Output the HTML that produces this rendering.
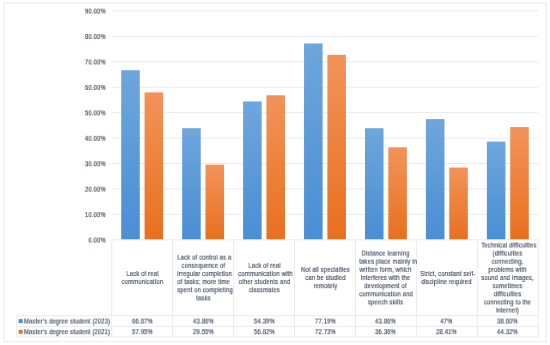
<!DOCTYPE html>
<html><head><meta charset="utf-8"><style>
html,body{margin:0;padding:0;background:#fff;}
body{width:550px;height:345px;position:relative;overflow:hidden;font-family:"Liberation Sans",sans-serif;font-size:6.8px;line-height:8.1px;color:#404A5E;-webkit-text-stroke:0.16px #404A5E;letter-spacing:0.2px;}
svg{position:absolute;left:0;top:0;}
div{position:absolute;white-space:nowrap;will-change:transform;transform:scaleX(0.86);}
.yl{width:65.8px;text-align:right;transform-origin:100% 50%;}
.cl{text-align:center;transform-origin:50% 50%;}
.lg{transform-origin:0 50%;}
</style></head><body>
<svg width="550" height="345" viewBox="0 0 550 345">
<defs><linearGradient id="gb" x1="0" y1="0" x2="0" y2="1"><stop offset="0" stop-color="#6EA6DC"/><stop offset="1" stop-color="#4A8ED4"/></linearGradient><linearGradient id="go" x1="0" y1="0" x2="0" y2="1"><stop offset="0" stop-color="#F2935A"/><stop offset="1" stop-color="#E8701E"/></linearGradient></defs>
<line x1="111.7" y1="214.36" x2="538.28" y2="214.36" stroke="#EAEBEF" stroke-width="1"/>
<line x1="111.7" y1="188.93" x2="538.28" y2="188.93" stroke="#EAEBEF" stroke-width="1"/>
<line x1="111.7" y1="163.49" x2="538.28" y2="163.49" stroke="#EAEBEF" stroke-width="1"/>
<line x1="111.7" y1="138.05" x2="538.28" y2="138.05" stroke="#EAEBEF" stroke-width="1"/>
<line x1="111.7" y1="112.62" x2="538.28" y2="112.62" stroke="#EAEBEF" stroke-width="1"/>
<line x1="111.7" y1="87.18" x2="538.28" y2="87.18" stroke="#EAEBEF" stroke-width="1"/>
<line x1="111.7" y1="61.74" x2="538.28" y2="61.74" stroke="#EAEBEF" stroke-width="1"/>
<line x1="111.7" y1="36.31" x2="538.28" y2="36.31" stroke="#EAEBEF" stroke-width="1"/>
<line x1="111.7" y1="10.87" x2="538.28" y2="10.87" stroke="#EAEBEF" stroke-width="1"/>
<rect x="121.22" y="70.21" width="18.55" height="169.59" fill="url(#gb)"/>
<rect x="144.57" y="92.39" width="18.55" height="147.41" fill="url(#go)"/>
<rect x="182.16" y="128.23" width="18.55" height="111.57" fill="url(#gb)"/>
<rect x="205.51" y="164.63" width="18.55" height="75.17" fill="url(#go)"/>
<rect x="243.10" y="101.45" width="18.55" height="138.35" fill="url(#gb)"/>
<rect x="266.45" y="95.27" width="18.55" height="144.53" fill="url(#go)"/>
<rect x="304.04" y="43.45" width="18.55" height="196.35" fill="url(#gb)"/>
<rect x="327.39" y="54.80" width="18.55" height="185.00" fill="url(#go)"/>
<rect x="364.98" y="128.23" width="18.55" height="111.57" fill="url(#gb)"/>
<rect x="388.33" y="147.31" width="18.55" height="92.49" fill="url(#go)"/>
<rect x="425.92" y="119.10" width="18.55" height="120.70" fill="url(#gb)"/>
<rect x="449.27" y="167.53" width="18.55" height="72.27" fill="url(#go)"/>
<rect x="486.86" y="141.61" width="18.55" height="98.19" fill="url(#gb)"/>
<rect x="510.21" y="127.06" width="18.55" height="112.74" fill="url(#go)"/>
<line x1="111.7" y1="239.8" x2="538.28" y2="239.8" stroke="#E9EBEF" stroke-width="1"/>
<line x1="111.70" y1="239.8" x2="111.70" y2="336.9" stroke="#E9EBEF" stroke-width="1"/>
<line x1="172.64" y1="239.8" x2="172.64" y2="336.9" stroke="#E9EBEF" stroke-width="1"/>
<line x1="233.58" y1="239.8" x2="233.58" y2="336.9" stroke="#E9EBEF" stroke-width="1"/>
<line x1="294.52" y1="239.8" x2="294.52" y2="336.9" stroke="#E9EBEF" stroke-width="1"/>
<line x1="355.46" y1="239.8" x2="355.46" y2="336.9" stroke="#E9EBEF" stroke-width="1"/>
<line x1="416.40" y1="239.8" x2="416.40" y2="336.9" stroke="#E9EBEF" stroke-width="1"/>
<line x1="477.34" y1="239.8" x2="477.34" y2="336.9" stroke="#E9EBEF" stroke-width="1"/>
<line x1="538.28" y1="239.8" x2="538.28" y2="336.9" stroke="#E9EBEF" stroke-width="1"/>
<line x1="16.4" y1="315.7" x2="538.28" y2="315.7" stroke="#E9EBEF" stroke-width="1"/>
<line x1="16.4" y1="326.4" x2="538.28" y2="326.4" stroke="#E9EBEF" stroke-width="1"/>
<line x1="16.4" y1="336.9" x2="538.28" y2="336.9" stroke="#E9EBEF" stroke-width="1"/>
<line x1="16.4" y1="315.7" x2="16.4" y2="336.9" stroke="#E9EBEF" stroke-width="1"/>
<rect x="18.6" y="319.1" width="4.1" height="4.0" fill="#4A8FD6"/>
<rect x="18.6" y="329.8" width="4.1" height="4.0" fill="#EE7224"/>
<rect x="4" y="3" width="542.4" height="338.5" fill="none" stroke="#EEEFF2" stroke-width="1.2"/>
</svg>
<div class="yl" style="left:40.00px;top:236px;transform:translateY(0.55px) scaleX(0.86);">0.00%</div>
<div class="yl" style="left:40.00px;top:211px;transform:translateY(0.11px) scaleX(0.86);">10.00%</div>
<div class="yl" style="left:40.00px;top:185px;transform:translateY(0.68px) scaleX(0.86);">20.00%</div>
<div class="yl" style="left:40.00px;top:160px;transform:translateY(0.24px) scaleX(0.86);">30.00%</div>
<div class="yl" style="left:40.00px;top:134px;transform:translateY(0.80px) scaleX(0.86);">40.00%</div>
<div class="yl" style="left:40.00px;top:109px;transform:translateY(0.37px) scaleX(0.86);">50.00%</div>
<div class="yl" style="left:40.00px;top:83px;transform:translateY(0.93px) scaleX(0.86);">60.00%</div>
<div class="yl" style="left:40.00px;top:58px;transform:translateY(0.49px) scaleX(0.86);">70.00%</div>
<div class="yl" style="left:40.00px;top:33px;transform:translateY(0.06px) scaleX(0.86);">80.00%</div>
<div class="yl" style="left:40.00px;top:7px;transform:translateY(0.62px) scaleX(0.86);">90.00%</div>
<div class="cl" style="left:111.70px;top:269px;width:60.94px;transform:translateY(0.94px) scaleX(0.86);">Lack of real</div>
<div class="cl" style="left:111.70px;top:278px;width:60.94px;transform:translateY(0.06px) scaleX(0.86);">communication</div>
<div class="cl" style="left:111.70px;top:317px;width:60.94px;transform:translateY(0.55px) scaleX(0.86);">66.67%</div>
<div class="cl" style="left:111.70px;top:328px;width:60.94px;transform:translateY(0.15px) scaleX(0.86);">57.95%</div>
<div class="cl" style="left:172.64px;top:253px;width:60.94px;transform:translateY(0.68px) scaleX(0.86);">Lack of control as a</div>
<div class="cl" style="left:172.64px;top:261px;width:60.94px;transform:translateY(0.81px) scaleX(0.86);">consequence of</div>
<div class="cl" style="left:172.64px;top:269px;width:60.94px;transform:translateY(0.94px) scaleX(0.86);">irregular completion</div>
<div class="cl" style="left:172.64px;top:278px;width:60.94px;transform:translateY(0.06px) scaleX(0.86);">of tasks; more time</div>
<div class="cl" style="left:172.64px;top:286px;width:60.94px;transform:translateY(0.19px) scaleX(0.86);">spent on completing</div>
<div class="cl" style="left:172.64px;top:294px;width:60.94px;transform:translateY(0.32px) scaleX(0.86);">tasks</div>
<div class="cl" style="left:172.64px;top:317px;width:60.94px;transform:translateY(0.55px) scaleX(0.86);">43.86%</div>
<div class="cl" style="left:172.64px;top:328px;width:60.94px;transform:translateY(0.15px) scaleX(0.86);">29.55%</div>
<div class="cl" style="left:233.58px;top:261px;width:60.94px;transform:translateY(0.81px) scaleX(0.86);">Lack of real</div>
<div class="cl" style="left:233.58px;top:269px;width:60.94px;transform:translateY(0.94px) scaleX(0.86);">communication with</div>
<div class="cl" style="left:233.58px;top:278px;width:60.94px;transform:translateY(0.06px) scaleX(0.86);">other students and</div>
<div class="cl" style="left:233.58px;top:286px;width:60.94px;transform:translateY(0.19px) scaleX(0.86);">classmates</div>
<div class="cl" style="left:233.58px;top:317px;width:60.94px;transform:translateY(0.55px) scaleX(0.86);">54.39%</div>
<div class="cl" style="left:233.58px;top:328px;width:60.94px;transform:translateY(0.15px) scaleX(0.86);">56.82%</div>
<div class="cl" style="left:294.52px;top:265px;width:60.94px;transform:translateY(0.87px) scaleX(0.86);">Not all specialties</div>
<div class="cl" style="left:294.52px;top:274px;width:60.94px;">can be studied</div>
<div class="cl" style="left:294.52px;top:282px;width:60.94px;transform:translateY(0.13px) scaleX(0.86);">remotely</div>
<div class="cl" style="left:294.52px;top:317px;width:60.94px;transform:translateY(0.55px) scaleX(0.86);">77.19%</div>
<div class="cl" style="left:294.52px;top:328px;width:60.94px;transform:translateY(0.15px) scaleX(0.86);">72.73%</div>
<div class="cl" style="left:355.46px;top:249px;width:60.94px;transform:translateY(0.61px) scaleX(0.86);">Distance learning</div>
<div class="cl" style="left:355.46px;top:257px;width:60.94px;transform:translateY(0.74px) scaleX(0.86);">takes place mainly in</div>
<div class="cl" style="left:355.46px;top:265px;width:60.94px;transform:translateY(0.87px) scaleX(0.86);">written form, which</div>
<div class="cl" style="left:355.46px;top:274px;width:60.94px;">interferes with the</div>
<div class="cl" style="left:355.46px;top:282px;width:60.94px;transform:translateY(0.13px) scaleX(0.86);">development of</div>
<div class="cl" style="left:355.46px;top:290px;width:60.94px;transform:translateY(0.26px) scaleX(0.86);">communication and</div>
<div class="cl" style="left:355.46px;top:298px;width:60.94px;transform:translateY(0.39px) scaleX(0.86);">speech skills</div>
<div class="cl" style="left:355.46px;top:317px;width:60.94px;transform:translateY(0.55px) scaleX(0.86);">43.86%</div>
<div class="cl" style="left:355.46px;top:328px;width:60.94px;transform:translateY(0.15px) scaleX(0.86);">36.36%</div>
<div class="cl" style="left:416.40px;top:269px;width:60.94px;transform:translateY(0.94px) scaleX(0.86);">Strict, constant self-</div>
<div class="cl" style="left:416.40px;top:278px;width:60.94px;transform:translateY(0.06px) scaleX(0.86);">discipline required</div>
<div class="cl" style="left:416.40px;top:317px;width:60.94px;transform:translateY(0.55px) scaleX(0.86);">47%</div>
<div class="cl" style="left:416.40px;top:328px;width:60.94px;transform:translateY(0.15px) scaleX(0.86);">28.41%</div>
<div class="cl" style="left:477.34px;top:241px;width:60.94px;transform:translateY(0.48px) scaleX(0.86);">Technical difficulties</div>
<div class="cl" style="left:477.34px;top:249px;width:60.94px;transform:translateY(0.61px) scaleX(0.86);">(difficulties</div>
<div class="cl" style="left:477.34px;top:257px;width:60.94px;transform:translateY(0.74px) scaleX(0.86);">connecting,</div>
<div class="cl" style="left:477.34px;top:265px;width:60.94px;transform:translateY(0.87px) scaleX(0.86);">problems with</div>
<div class="cl" style="left:477.34px;top:274px;width:60.94px;">sound and images,</div>
<div class="cl" style="left:477.34px;top:282px;width:60.94px;transform:translateY(0.13px) scaleX(0.86);">sometimes</div>
<div class="cl" style="left:477.34px;top:290px;width:60.94px;transform:translateY(0.26px) scaleX(0.86);">difficulties</div>
<div class="cl" style="left:477.34px;top:298px;width:60.94px;transform:translateY(0.39px) scaleX(0.86);">connecting to the</div>
<div class="cl" style="left:477.34px;top:306px;width:60.94px;transform:translateY(0.52px) scaleX(0.86);">Internet)</div>
<div class="cl" style="left:477.34px;top:317px;width:60.94px;transform:translateY(0.55px) scaleX(0.86);">38.60%</div>
<div class="cl" style="left:477.34px;top:328px;width:60.94px;transform:translateY(0.15px) scaleX(0.86);">44.32%</div>
<div class="lg" style="left:24.20px;top:317px;transform:translateY(0.55px) scaleX(0.86);">Master's degree student (2023)</div>
<div class="lg" style="left:24.20px;top:328px;transform:translateY(0.15px) scaleX(0.86);">Master's degree student (2021)</div>
</body></html>
